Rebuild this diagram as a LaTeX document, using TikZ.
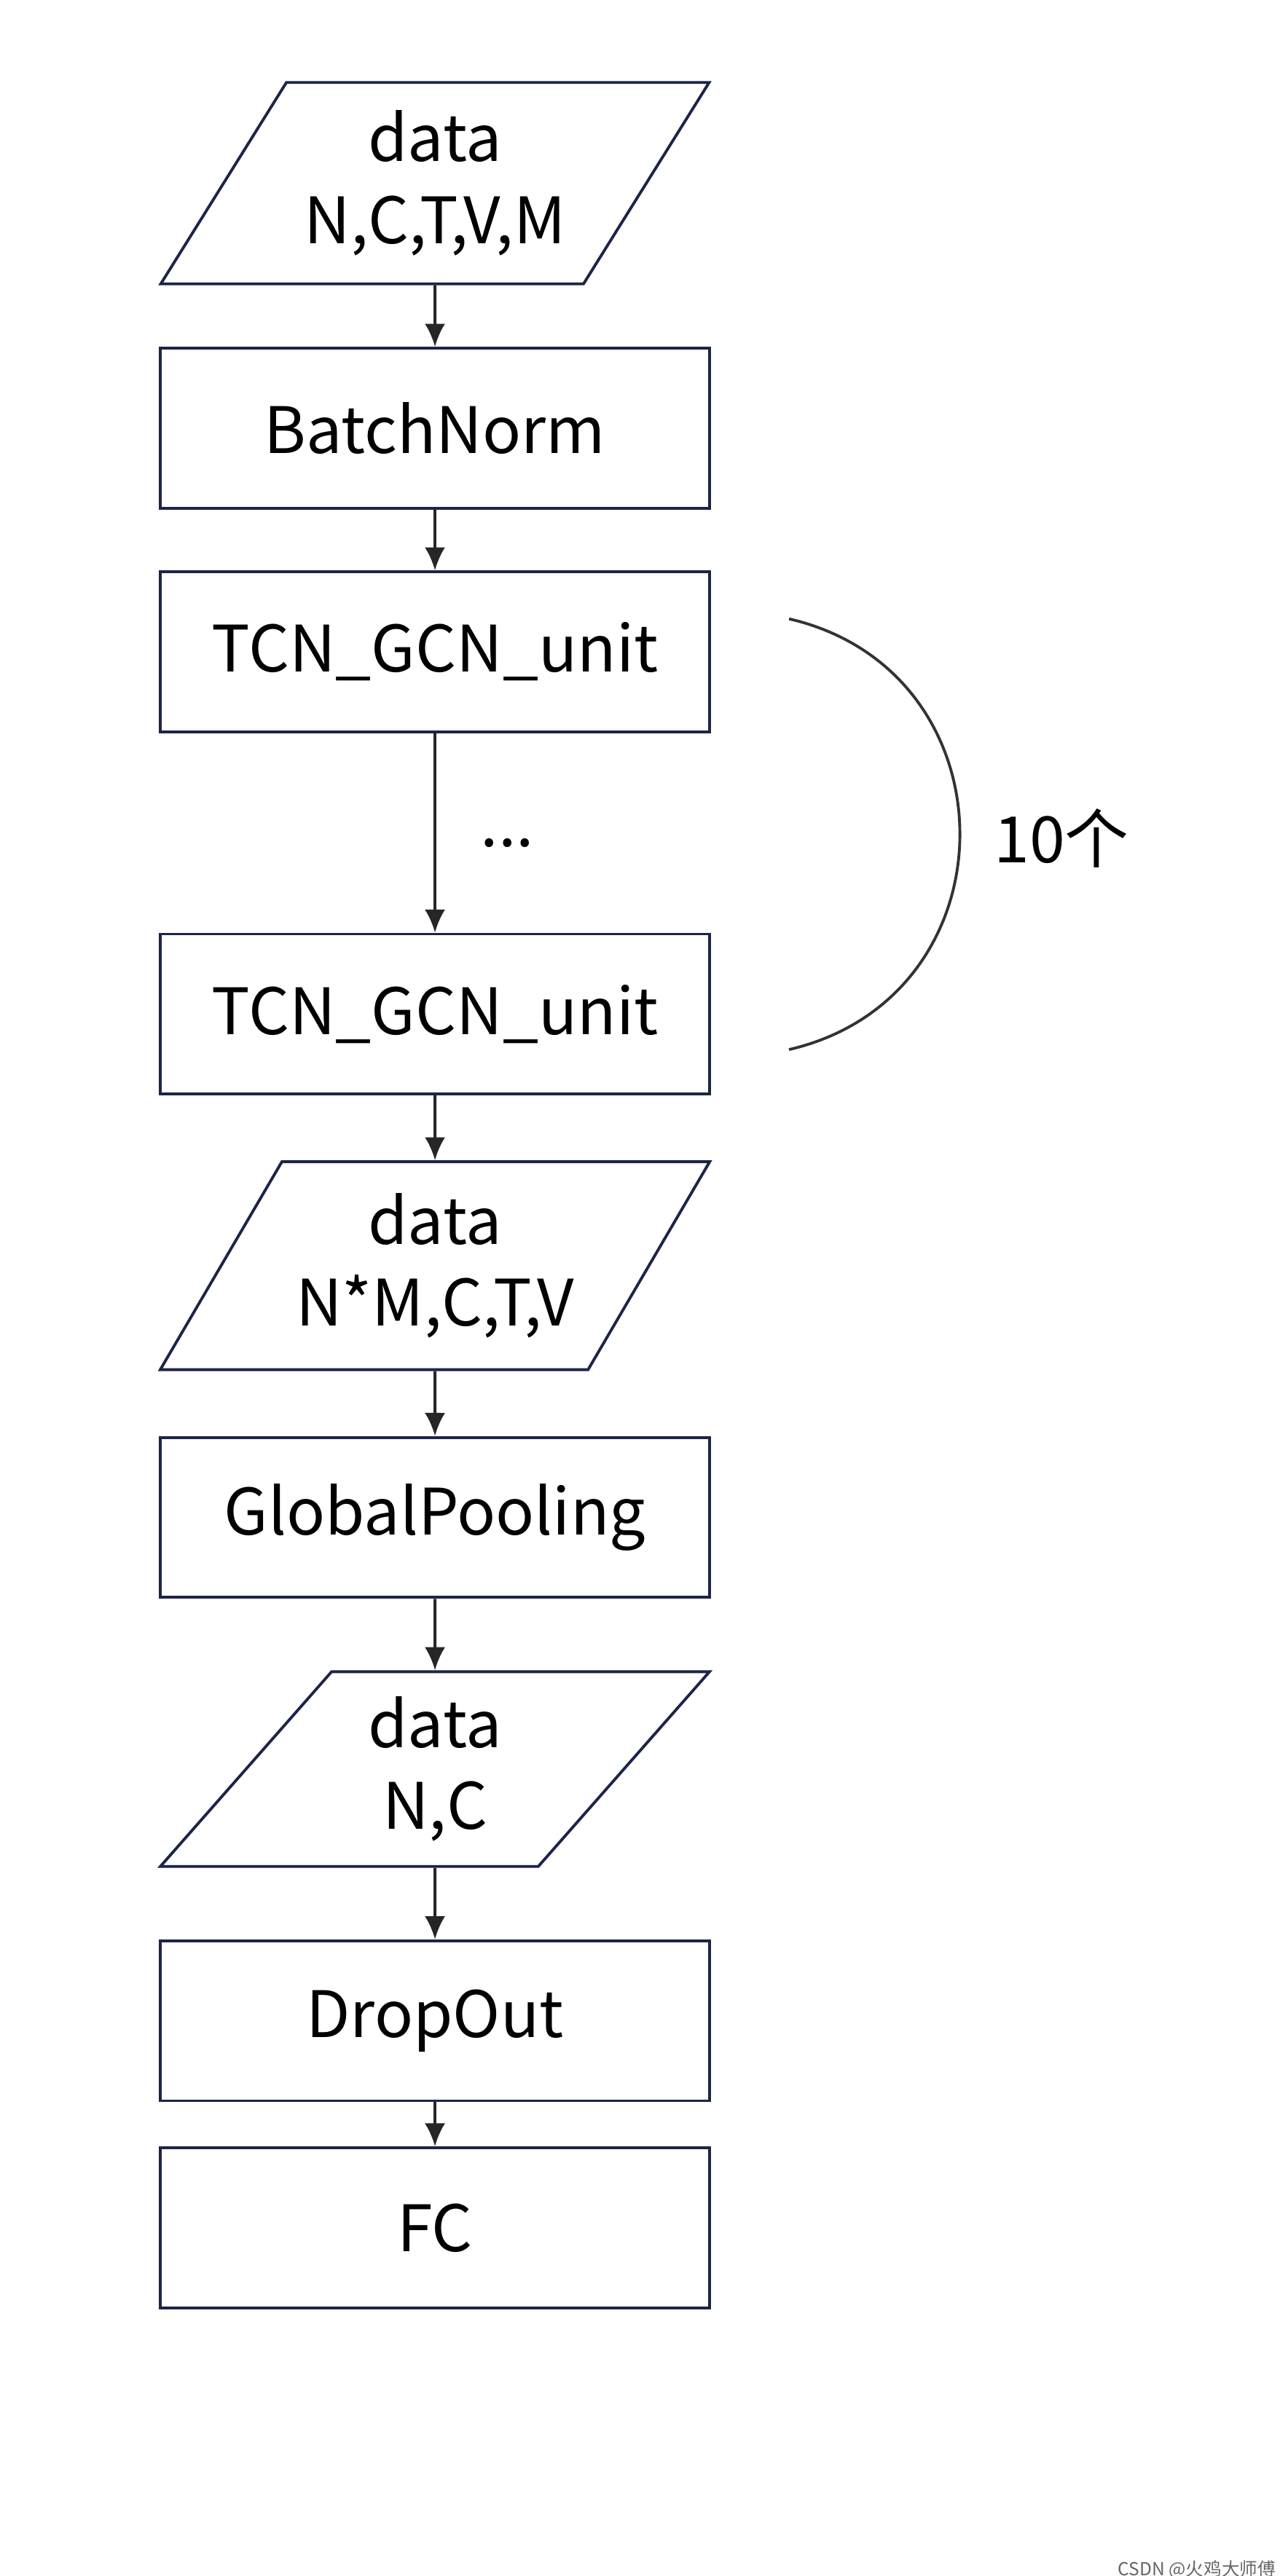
\documentclass[tikz,border=0pt]{standalone}
\usepackage{fontspec}
\setmainfont{Noto Sans CJK SC}
\usetikzlibrary{shapes.geometric,arrows.meta,positioning}
\definecolor{boxline}{HTML}{1C2448}
\definecolor{arcline}{HTML}{333333}

\begin{document}
\begin{tikzpicture}[x=0.02265cm,y=-0.02265cm,
    every node/.style={font=\fontsize{25}{32}\selectfont,text=black},
    block/.style={draw=boxline,line width=1.1pt,rectangle,minimum width=333*0.02265cm,minimum height=97*0.02265cm,inner sep=0pt},
    io/.style={draw=boxline,line width=1.1pt,trapezium,trapezium left angle=52.7,trapezium right angle=127.3,
        trapezium stretches=true,minimum width=333*0.02265cm,inner sep=0pt,align=center},
    flow/.style={-{Latex[length=9pt,width=8pt]},line width=1.1pt,draw=black!85},
    ]
    \useasboundingbox (0,0) rectangle (780,1561);

    % data flow
    \node[io,minimum height=122*0.02265cm] (in) at (263.5,111) {data\\N,C,T,V,M};
    \node[block] (bn) at (263.5,259.5) {BatchNorm};
    \node[block] (tcna) at (263.5,395) {TCN\_GCN\_unit};
    \node[block] (tcnb) at (263.5,614.5) {TCN\_GCN\_unit};
    \node[io,minimum height=126*0.02265cm] (mid) at (263.5,767) {data\\N*M,C,T,V};
    \node[block] (pool) at (263.5,919.5) {GlobalPooling};
    \node[io,minimum height=118*0.02265cm] (out) at (263.5,1072) {data\\N,C};
    \node[block] (drop) at (263.5,1224.5) {DropOut};
    \node[block] (fc) at (263.5,1350) {FC};

    \draw[flow] (in) -- (bn);
    \draw[flow] (bn) -- (tcna);
    \draw[flow] (tcna) -- node[right=14pt,pos=0.55] (dots) {...} (tcnb);
    \draw[flow] (tcnb) -- (mid);
    \draw[flow] (mid) -- (pool);
    \draw[flow] (pool) -- (out);
    \draw[flow] (out) -- (drop);
    \draw[flow] (drop) -- (fc);

    % repeat bracket
    \coordinate (rtop) at (478,375);
    \coordinate (rbot) at (478,636);
    \draw[arcline,line width=1.1pt] (rtop) .. controls (616,407) and (616,604) .. (rbot);
    \node (times) at (643,508) {10个};

    \node[font=\fontsize{7}{8}\selectfont,text=black!60] (mark) at (725,1557) {CSDN @火鸡大师傅};
\end{tikzpicture}
\end{document}
